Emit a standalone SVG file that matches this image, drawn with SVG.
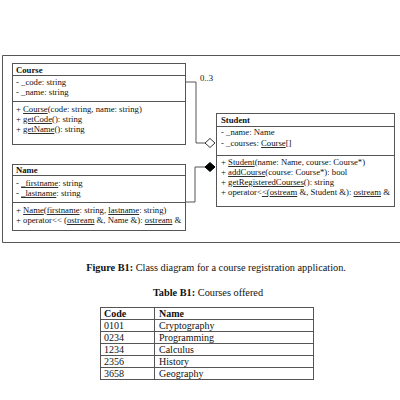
<svg xmlns="http://www.w3.org/2000/svg" width="400" height="400" viewBox="0 0 400 400">
<style>
text{font-family:"Liberation Serif","Times New Roman",serif;font-size:8.7px;fill:#111}
.b{font-weight:bold}
.box{fill:#fff;stroke:#555;stroke-width:1}
.ln{fill:none;stroke:#555;stroke-width:1}
.cap{font-size:10.3px}
.t{font-size:10px}
.r{text-decoration:underline wavy #e06060}
.u{text-decoration:underline wavy #6080e0}
</style>
<rect width="400" height="400" fill="#fff"/>
<path class="ln" d="M402 55.5H2.5V242.5H402" stroke-width="1.5" stroke="#666"/>
<g id="connectors">
<path class="ln" d="M185 82H196V143H205"/>
<path d="M205 143L210 138.5L215 143L210 147.5Z" fill="#fff" stroke="#333"/>
<path class="ln" d="M185 202H195V167H205"/>
<path d="M205 167L210 162.5L215 167L210 171.5Z" fill="#000" stroke="#000"/>
<text x="200" y="81">0..3</text>
</g>
<g id="course">
<rect class="box" x="12.5" y="63.5" width="173" height="81"/>
<path class="ln" d="M12.5 75.5H185.5M12.5 101.5H185.5"/>
<text x="16" y="72.5" class="b">Course</text>
<text x="16" y="85">- _code: string</text>
<text x="16" y="95">- _name: string</text>
<text x="16" y="112">+ <tspan class="u">Course</tspan>(code: string, name: string)</text>
<text x="16" y="122">+ <tspan class="r">getCode</tspan>(): string</text>
<text x="16" y="132">+ <tspan class="r">getName</tspan>(): string</text>
</g>
<g id="name">
<rect class="box" x="12.5" y="164.5" width="173" height="66"/>
<path class="ln" d="M12.5 175.5H185.5M12.5 202.5H185.5"/>
<text x="16" y="173" class="b">Name</text>
<text x="16" y="186">- <tspan class="r">_firstname</tspan>: string</text>
<text x="16" y="196">- <tspan class="r">_lastname</tspan>: string</text>
<text x="16" y="213">+ <tspan class="u">Name</tspan>(<tspan class="r">firstname</tspan>: string, <tspan class="r">lastname</tspan>: string)</text>
<text x="16" y="223">+ operator&lt;&lt; (<tspan class="r">ostream</tspan> &amp;, Name &amp;): <tspan class="r">ostream</tspan> &amp;</text>
</g>
<g id="student">
<rect class="box" x="216.5" y="113.5" width="178" height="93"/>
<path class="ln" d="M216.5 126.5H394.5M216.5 155.5H394.5"/>
<text x="221" y="123" class="b">Student</text>
<text x="221" y="135">- _name: Name</text>
<text x="221" y="146">- _courses: <tspan class="u">Course</tspan>[]</text>
<text x="221" y="165">+ <tspan class="u">Student</tspan>(name: Name, course: Course*)</text>
<text x="221" y="175">+ <tspan class="r">addCourse</tspan>(course: Course*): bool</text>
<text x="221" y="185">+ <tspan class="r">getRegisteredCourses</tspan>(): string</text>
<text x="221" y="195">+ operator&lt;<tspan class="u">&lt;(</tspan><tspan class="r">ostream</tspan> &amp;, Student &amp;): <tspan class="r">ostream</tspan> &amp;</text>
</g>
<text x="216" y="271" class="cap" text-anchor="middle"><tspan class="b">Figure B1:</tspan> Class diagram for a course registration application.</text>
<text x="208" y="296" class="cap" text-anchor="middle"><tspan class="b">Table B1:</tspan> Courses offered</text>
<g id="table">
<rect class="box" x="100.5" y="307.5" width="213" height="72"/>
<path class="ln" d="M154.5 307.5V379.5M100.5 319.5H313.5M100.5 331.5H313.5M100.5 343.5H313.5M100.5 355.5H313.5M100.5 367.5H313.5"/>
<text x="104" y="317" class="b t">Code</text><text x="159" y="317" class="b t">Name</text>
<text x="104" y="329" class="t">0101</text><text x="159" y="329" class="t">Cryptography</text>
<text x="104" y="341" class="t">0234</text><text x="159" y="341" class="t">Programming</text>
<text x="104" y="353" class="t">1234</text><text x="159" y="353" class="t">Calculus</text>
<text x="104" y="365" class="t">2356</text><text x="159" y="365" class="t">History</text>
<text x="104" y="377" class="t">3658</text><text x="159" y="377" class="t">Geography</text>
</g>
</svg>
